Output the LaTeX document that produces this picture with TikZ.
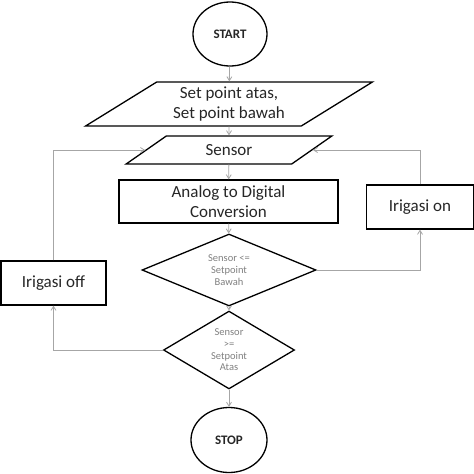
\documentclass[tikz,border=0pt]{standalone}
\usepackage{fontspec}
\setmainfont{Carlito}
\usetikzlibrary{shapes.geometric, arrows.meta}

\tikzset{
	box/.style={draw, line width=1.3pt, align=center, inner sep=2pt,
		text=black!85, font=\fontsize{17}{20}\selectfont},
	io/.style={box, trapezium, trapezium stretches=true},
	term/.style={draw, line width=1.3pt, ellipse, inner sep=0pt,
		text=black!85, font=\fontsize{13}{15}\selectfont\bfseries},
	cond/.style={draw, line width=1.3pt, diamond, inner sep=0pt, align=center,
		text=gray, font=\fontsize{10.5}{11.7}\selectfont},
	flow/.style={draw=gray!70, line width=0.8pt, -{Straight Barb[length=4pt, width=5pt]}},
}

\begin{document}
\begin{tikzpicture}[x=1pt, y=-1pt]
	\useasboundingbox (0,0) rectangle (474,474);

	\node[term, minimum width=74pt, minimum height=64pt] (start) at (230,34) {START};
	\node[io, trapezium left angle=34, trapezium right angle=146,
		minimum width=287pt, minimum height=44pt] (param) at (229,104)
		{Set point atas,\\Set point bawah};
	\node[io, trapezium left angle=43, trapezium right angle=137,
		minimum width=206pt, minimum height=28pt] (sensor) at (229,150) {Sensor};
	\node[box, minimum width=219pt, minimum height=43pt] (adc) at (228.5,201.5)
		{Analog to Digital\\Conversion};
	\node[cond, minimum width=174pt, minimum height=71pt] (bawah) at (229,270)
		{Sensor <=\\Setpoint\\Bawah};
	\node[cond, minimum width=131pt, minimum height=71pt] (atas) at (229,350)
		{Sensor\\>=\\Setpoint\\Atas};
	\node[term, minimum width=76pt, minimum height=65pt] (stop) at (229,440) {STOP};

	\node[box, minimum width=107pt, minimum height=44pt] (on) at (420,207) {Irigasi on};
	\node[box, minimum width=105pt, minimum height=44pt] (off) at (53.5,283) {Irigasi off};

	% main column
	\draw[flow] (start) -- (param);
	\draw[flow] (param) -- (sensor);
	\draw[flow] (sensor) -- (adc);
	\draw[flow] (adc) -- (bawah);
	\draw[flow] (bawah) -- (atas);
	\draw[flow] (atas) -- (stop);

	% loops back to the sensor
	\draw[flow] (bawah.east) -| (on.south);
	\draw[flow] (on.north) |- (sensor.east);
	\draw[flow] (atas.west) -| (off.south);
	\draw[flow] (off.north) |- (sensor.west);
\end{tikzpicture}
\end{document}
